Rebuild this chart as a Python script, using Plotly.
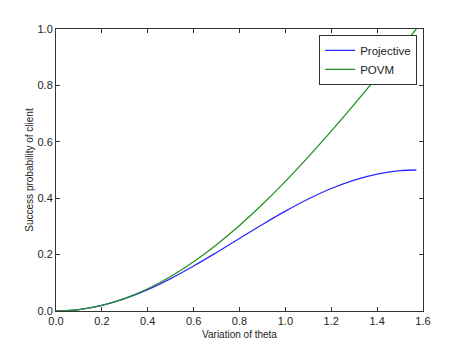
import plotly.graph_objects as go

theta = [0.0, 0.1, 0.2, 0.3, 0.4, 0.5, 0.6, 0.7, 0.8, 0.9, 1.0, 1.1, 1.2, 1.3, 1.4, 1.5, 1.5708]
projective = [0.0, 0.00498, 0.01974, 0.04367, 0.07582, 0.11492, 0.15941, 0.20751, 0.25730,
              0.30680, 0.35404, 0.39713, 0.43435, 0.46422, 0.48556, 0.49750, 0.5]
povm = [0.0, 0.004996, 0.019933, 0.044664, 0.078939, 0.122417, 0.174664, 0.235158, 0.303293,
        0.378390, 0.459698, 0.546404, 0.637642, 0.732501, 0.830033, 0.929263, 1.0]
x_ticks = [0.0, 0.2, 0.4, 0.6, 0.8, 1.0, 1.2, 1.4, 1.6]
y_ticks = [0.0, 0.2, 0.4, 0.6, 0.8, 1.0]

fig = go.Figure()
fig.add_trace(go.Scatter(x=theta, y=projective, mode="lines", name="Projective",
                         line=dict(color="#2a2aff", width=1.3, shape="spline")))
fig.add_trace(go.Scatter(x=theta, y=povm, mode="lines", name="POVM",
                         line=dict(color="#229122", width=1.3, shape="spline")))

axis_common = dict(showgrid=False, zeroline=False, showline=True, linecolor="#333333",
                   linewidth=1, mirror="allticks", ticks="inside", ticklen=4,
                   tickcolor="#333333", tickfont=dict(family="Liberation Sans, Arial", size=11, color="#222222"))

fig.update_layout(
    width=452, height=350,
    margin=dict(l=56, r=29, t=29, b=34),
    paper_bgcolor="white", plot_bgcolor="white",
    xaxis=dict(range=[0, 1.6], tickvals=x_ticks, ticktext=[f"{v:.1f}" for v in x_ticks],
               title=dict(text="Variation of theta", font=dict(family="Liberation Sans, Arial", size=10, color="#222222"), standoff=4),
               **axis_common),
    yaxis=dict(range=[0, 1.0], tickvals=y_ticks, ticktext=[f"{v:.1f}" for v in y_ticks],
               title=dict(text="Success probability of client", font=dict(family="Liberation Sans, Arial", size=10, color="#222222"), standoff=2),
               **axis_common),
    legend=dict(x=0.984, y=0.979, xanchor="right", yanchor="top", bgcolor="white",
                bordercolor="#333333", borderwidth=1, itemwidth=30,
                font=dict(family="Liberation Sans, Arial", size=11.5, color="#222222")),
)

fig.write_html("out.html")
